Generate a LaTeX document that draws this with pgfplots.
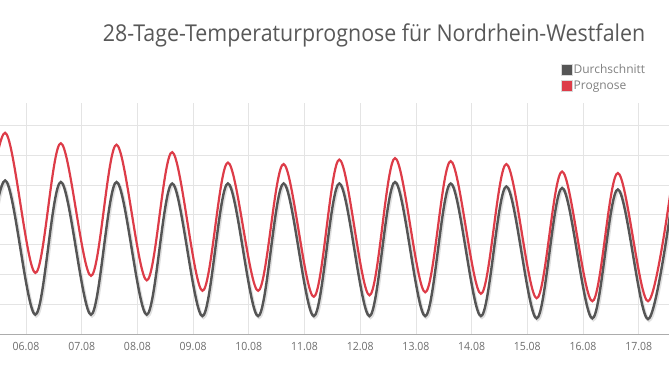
\documentclass[border=0pt]{standalone}
\usepackage{pgfplots}
\pgfplotsset{compat=1.18}
\usepackage{fontspec}
\setmainfont{Open Sans}
\definecolor{avgcol}{HTML}{555555}
\definecolor{progcol}{HTML}{DD3C48}
\definecolor{gridcol}{HTML}{E4E4E4}
\definecolor{titlecol}{HTML}{585858}
\definecolor{labcol}{HTML}{6E6E6E}
\definecolor{legcol}{HTML}{808080}
\newcommand\sx[1]{\scalebox{0.93}[1]{#1}}

\pgfplotstableread{
d      prog  avg
5.167  16.5  13.3
5.625  25.5  22.3
6.167  16.1  13.3
6.625  24.8  22.2
7.167  15.9  13.3
7.625  24.7  22.2
8.167  15.6  13.3
8.625  24.2  22.1
9.167  14.9  13.2
9.625  23.5  22.1
10.167 14.9  13.2
10.625 23.4  22.1
11.167 14.5  13.2
11.625 23.7  22.1
12.167 14.6  13.2
12.625 23.8  22.2
13.167 14.8  13.2
13.625 23.6  22.1
14.167 14.7  13.2
14.625 23.4  21.9
15.167 14.4  13.05
15.625 22.9  21.8
16.167 14.2  13.05
16.625 22.8  21.7
17.167 14.2  13.0
17.625 23.0  21.7
}\tempdata

\begin{document}
\begin{tikzpicture}[x=1pt,y=1pt]
\useasboundingbox (0,0) rectangle (669,376);
\node[anchor=base, text=titlecol, font=\fontsize{23.2}{27}\selectfont, inner sep=0pt] at (374,334.3) {\scalebox{0.922}[1]{28-Tage-Temperaturprognose für Nordrhein-Westfalen}};
\begin{axis}[
  at={(0pt,42pt)}, anchor=south west,
  scale only axis, width=669pt, height=231pt,
  xmin=5.533, xmax=17.544,
  ymin=12, ymax=27.5,
  xtick={6,...,17},
  xticklabels={\sx{06.08},\sx{07.08},\sx{08.08},\sx{09.08},\sx{10.08},\sx{11.08},\sx{12.08},\sx{13.08},\sx{14.08},\sx{15.08},\sx{16.08},\sx{17.08}},
  ytick={12,14,...,26},
  yticklabels={},
  grid=major,
  major grid style={draw=gridcol, line width=0.8pt},
  axis x line*=bottom, axis y line*=left,
  x axis line style={draw=gray!65, line width=0.9pt, -},
  y axis line style={draw=none},
  tick style={draw=none},
  xticklabel style={text=labcol, font=\fontsize{11.3}{13}\selectfont, yshift=-4.5pt},
  clip=true,
  legend style={at={(0.838,1.1745)}, anchor=north west, draw=none, fill=none,
    font=\fontsize{12}{14}\selectfont, text=legcol, inner sep=0pt, row sep=1pt,
    nodes={inner sep=1pt, text height=10pt, text depth=3pt},
    legend cell align=left},
]
\addlegendimage{legend image code/.code={\draw[fill=avgcol,draw=gray!30,line width=0.8pt] (0pt,-5.5pt) rectangle (11pt,5.5pt);}}
\addlegendentry{Durchschnitt}
\addlegendimage{legend image code/.code={\draw[fill=progcol,draw=gray!30,line width=0.8pt] (0pt,-5.5pt) rectangle (11pt,5.5pt);}}
\addlegendentry{Prognose}
\addplot[draw=black!12, line width=3.2pt, smooth, tension=0.55, shift={(1pt,-1.3pt)}, forget plot] table[x=d, y=avg] {\tempdata};
\addplot[draw=avgcol, line width=2.4pt, smooth, tension=0.55, forget plot] table[x=d, y=avg] {\tempdata};
\addplot[draw=progcol, line width=2.2pt, smooth, tension=0.55, forget plot] table[x=d, y=prog] {\tempdata};
\end{axis}
\end{tikzpicture}
\end{document}
